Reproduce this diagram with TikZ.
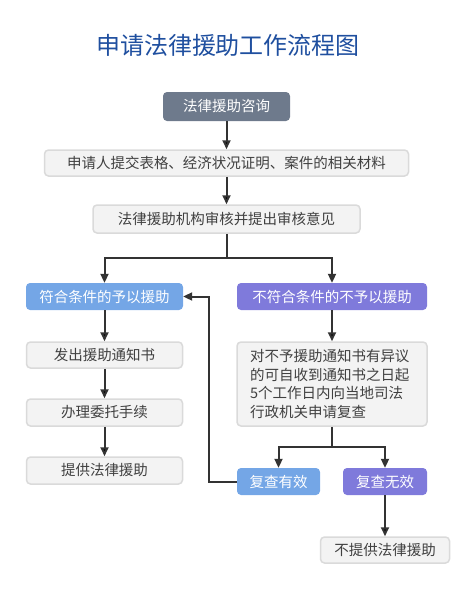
\documentclass[tikz,border=0pt]{standalone}
\usepackage{fontspec}
\newfontfamily\cjk{Noto Sans CJK SC}
\usepackage{tikz}
\usetikzlibrary{arrows.meta,positioning}

\definecolor{titleblue}{HTML}{1F4F9F}
\definecolor{slate}{HTML}{6E7A8C}
\definecolor{boxgray}{HTML}{F3F3F3}
\definecolor{boxline}{HTML}{DADADA}
\definecolor{okblue}{HTML}{74A6E6}
\definecolor{nopurple}{HTML}{7F7ADB}
\definecolor{arrowgray}{HTML}{333333}

\begin{document}
\begin{tikzpicture}[x=1pt, y=-1pt,
    font=\cjk\fontsize{14.5}{18.7}\selectfont,
    box/.style={draw=boxline, line width=1.5pt, fill=boxgray, rounded corners=4pt,
      inner sep=0pt, text=black!75, align=center},
    start/.style={fill=slate, rounded corners=4pt, inner sep=0pt, text=white},
    yes/.style={fill=okblue, rounded corners=4pt, inner sep=0pt, text=white},
    no/.style={fill=nopurple, rounded corners=4pt, inner sep=0pt, text=white},
    line/.style={draw=arrowgray, line width=2pt},
    >={Triangle[length=9pt,width=8pt]}]
  \useasboundingbox (0,0) rectangle (474,590);

   \node[text=titleblue, font=\cjk\fontsize{24}{30}\selectfont] (title) at (228,45) {申请法律援助工作流程图};
   \node[start, minimum width=127, minimum height=29] (consult) at (226.5,106.5) {法律援助咨询};
   \node[box, minimum width=364, minimum height=26] (submit) at (226.5,163) {申请人提交表格、经济状况证明、案件的相关材料};
   \node[box, minimum width=267, minimum height=28] (review) at (226.5,219) {法律援助机构审核并提出审核意见};
   \node[yes, minimum width=157, minimum height=27] (grant) at (104.5,296.5) {符合条件的予以援助};
   \node[no, minimum width=190, minimum height=27] (deny) at (332,296.5) {不符合条件的不予以援助};
   \node[box, minimum width=156, minimum height=26] (notice) at (104.5,355) {发出援助通知书};
   \node[box, minimum width=156, minimum height=27] (entrust) at (104.5,412.5) {办理委托手续};
   \node[box, minimum width=156, minimum height=27] (provide) at (104.5,470.5) {提供法律援助};
   \node[box, minimum width=190, minimum height=84, text width=164, inner xsep=13pt, align=left] (object) at (332,384)
     {对不予援助通知书有异议\\的可自收到通知书之日起\\5个工作日内向当地司法\\行政机关申请复查};
   \node[yes, minimum width=83, minimum height=27] (valid) at (278.5,481.5) {复查有效};
   \node[no, minimum width=84, minimum height=27] (invalid) at (385,481.5) {复查无效};
   \node[box, minimum width=129, minimum height=26] (refuse) at (385,550) {不提供法律援助};

   \coordinate (split1) at (226.5,258);
   \coordinate (split2) at (332,447);
   \coordinate (back) at (209,481.5);

  \path[line, ->]
    (consult) edge (submit)
    (submit) edge (review)
    (grant) edge (notice)
    (notice) edge (entrust)
    (entrust) edge (provide)
    (deny) edge (object)
    (invalid) edge (refuse);
  \draw[line] (review) -- (split1);
  \draw[line, ->] (split1) -| (grant);
  \draw[line, ->] (split1) -| (deny);
  \draw[line] (object) -- (split2);
  \draw[line, ->] (split2) -| (valid);
  \draw[line, ->] (split2) -| (invalid);
  \draw[line, ->] (valid) -- (back) |- (grant);
  \end{tikzpicture}
\end{document}
